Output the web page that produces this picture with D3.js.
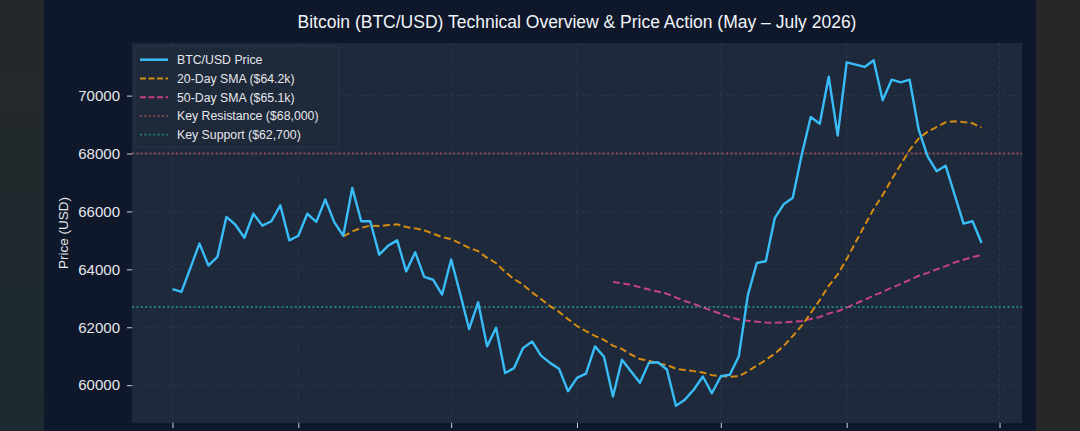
<!doctype html>
<html lang="en">
<head>
  <meta charset="utf-8">
  <title>BTC/USD Technical Overview</title>
  <style>
    html, body { margin: 0; padding: 0; background: #262729; }
    svg { display: block; font-family: "Liberation Sans", Arial, sans-serif; }
    .grid line { stroke: #475569; stroke-opacity: 0.45; stroke-dasharray: 3,3; stroke-width: 0.8; }
    .axis text { fill: #e5e7eb; }
    .axis line { stroke: #cbd5e1; }
    .axis path { display: none; }
  </style>
</head>
<body>
<div id="chart"></div>

<script src="https://d3js.org/d3.v7.min.js"></script>
<script>
  // daily closes, starting 1 May 2026
  const startDate = '2026-05-01';
  const price = [
    63320, 63220, 64050, 64890, 64130, 64430, 65810, 65540, 65090, 65920,
    65510, 65660, 66210, 65000, 65160, 65920, 65640, 66410, 65630, 65160,
    66810, 65660, 65660, 64510, 64820, 65000, 63930, 64590, 63740, 63640,
    63130, 64340, 63160, 61940, 62860, 61340, 61980, 60420, 60590, 61280,
    61510, 61020, 60770, 60570, 59790, 60250, 60400, 61340, 60980, 59610,
    60880, 60480, 60080, 60770, 60790, 60540, 59290, 59500, 59850, 60300,
    59720, 60310, 60360, 61000, 63100, 64220, 64280, 65770, 66250, 66470,
    67960, 69260, 69030, 70650, 68620, 71150, 71070, 70990, 71220, 69840,
    70550, 70460, 70550, 68830, 67900, 67390, 67580, 66580, 65580, 65660,
    64910
  ];
  const smaWindows = [20, 50];
  const resistance = 68000;
  const support = 62700;
  const yTicks = [60000, 62000, 64000, 66000, 68000, 70000];
  const xTicks = ['2026-05-01', '2026-05-15', '2026-06-01', '2026-06-15', '2026-07-01', '2026-07-15', '2026-08-01'];
  const legendLabels = ['BTC/USD Price', '20-Day SMA ($64.2k)', '50-Day SMA ($65.1k)', 'Key Resistance ($68,000)', 'Key Support ($62,700)'];
  const title = 'Bitcoin (BTC/USD) Technical Overview & Price Action (May \u2013 July 2026)';

  const W = 1080, H = 431;
  const fig = { x0: 44, x1: 1036 };
  const plot = { left: 132, right: 1022, top: 43, bottom: 423 };

  const parse = d3.utcParse('%Y-%m-%d');
  const day0 = parse(startDate);
  const dates = price.map((d, i) => d3.utcDay.offset(day0, i));

  // simple moving averages of the price series
  function sma(n) {
    return price.map((d, i) => i < n - 1 ? null : d3.mean(price.slice(i - n + 1, i + 1)));
  }
  const sma20 = sma(smaWindows[0]);
  const sma50 = sma(smaWindows[1]);

  const x = d3.scaleUtc()
    .domain([d3.utcHour.offset(dates[0], -108), d3.utcHour.offset(dates[dates.length - 1], 108)])
    .range([plot.left, plot.right]);

  const yMin = d3.min(price), yMax = d3.max(price), pad = (yMax - yMin) * 0.05;
  const y = d3.scaleLinear()
    .domain([yMin - pad, yMax + pad])
    .range([plot.bottom, plot.top]);

  const svg = d3.select('#chart').append('svg')
    .attr('width', W)
    .attr('height', H);

  const defs = svg.append('defs');
  const grad = defs.append('linearGradient').attr('id', 'side').attr('x1', 0).attr('y1', 0).attr('x2', 0).attr('y2', 1);
  grad.append('stop').attr('offset', '0%').attr('stop-color', '#25282b');
  grad.append('stop').attr('offset', '100%').attr('stop-color', '#1b2a30');

  // backgrounds
  svg.append('rect').attr('x', 0).attr('y', 0).attr('width', fig.x0).attr('height', H).attr('fill', 'url(#side)');
  svg.append('rect').attr('x', fig.x1).attr('y', 0).attr('width', W - fig.x1).attr('height', H).attr('fill', '#262729');
  svg.append('rect').attr('x', fig.x0).attr('y', 0).attr('width', fig.x1 - fig.x0).attr('height', H).attr('fill', '#0f172a');
  svg.append('rect')
    .attr('x', plot.left).attr('y', plot.top)
    .attr('width', plot.right - plot.left).attr('height', plot.bottom - plot.top)
    .attr('fill', '#1e293b');

  // grid
  const xTickDates = xTicks.map(parse);
  svg.append('g').attr('class', 'grid')
    .selectAll('line').data(xTickDates).join('line')
    .attr('x1', d => x(d)).attr('x2', d => x(d))
    .attr('y1', plot.top).attr('y2', plot.bottom);
  svg.append('g').attr('class', 'grid')
    .selectAll('line').data(yTicks).join('line')
    .attr('x1', plot.left).attr('x2', plot.right)
    .attr('y1', d => y(d)).attr('y2', d => y(d));

  // axes
  svg.append('g').attr('class', 'axis')
    .attr('transform', `translate(${plot.left},0)`)
    .call(d3.axisLeft(y).tickValues(yTicks).tickSize(5).tickPadding(7).tickFormat(d3.format('d')))
    .call(g => g.selectAll('text').attr('font-size', 15))
    .call(g => g.selectAll('line').attr('stroke-width', 1));
  svg.append('g').attr('class', 'axis')
    .attr('transform', `translate(0,${plot.bottom})`)
    .call(d3.axisBottom(x).tickValues(xTickDates).tickSize(5).tickFormat(''));

  // key levels
  svg.append('line')
    .attr('x1', plot.left).attr('x2', plot.right)
    .attr('y1', y(resistance)).attr('y2', y(resistance))
    .attr('stroke', '#f87171').attr('stroke-opacity', 0.5)
    .attr('stroke-width', 1.8).attr('stroke-dasharray', '2,2.4');
  svg.append('line')
    .attr('x1', plot.left).attr('x2', plot.right)
    .attr('y1', y(support)).attr('y2', y(support))
    .attr('stroke', '#2dd4bf').attr('stroke-opacity', 0.5)
    .attr('stroke-width', 1.8).attr('stroke-dasharray', '2,2.4');

  const line = d3.line()
    .defined(d => d[1] != null)
    .x(d => x(d[0]))
    .y(d => y(d[1]));

  svg.append('path')
    .datum(dates.map((d, i) => [d, sma50[i]]))
    .attr('d', line)
    .attr('fill', 'none').attr('stroke', '#ec4899').attr('stroke-opacity', 0.8)
    .attr('stroke-width', 2).attr('stroke-dasharray', '7,3.5');

  svg.append('path')
    .datum(dates.map((d, i) => [d, sma20[i]]))
    .attr('d', line)
    .attr('fill', 'none').attr('stroke', '#f59e0b').attr('stroke-opacity', 0.85)
    .attr('stroke-width', 2).attr('stroke-dasharray', '7,3.5');

  svg.append('path')
    .datum(dates.map((d, i) => [d, price[i]]))
    .attr('d', line)
    .attr('fill', 'none').attr('stroke', '#38bdf8')
    .attr('stroke-width', 2.4).attr('stroke-linejoin', 'round');

  // title and y label
  svg.append('text')
    .attr('x', (plot.left + plot.right) / 2).attr('y', 28)
    .attr('text-anchor', 'middle').attr('font-size', 17.5).attr('fill', '#f1f5f9')
    .text(title);

  svg.append('text')
    .attr('transform', `translate(68,${(plot.top + plot.bottom) / 2}) rotate(-90)`)
    .attr('text-anchor', 'middle').attr('font-size', 13.5).attr('fill', '#e5e7eb')
    .text('Price (USD)');

  // legend
  const legendStyles = [
    { color: '#38bdf8', opacity: 1, width: 2.5, dash: null },
    { color: '#f59e0b', opacity: 0.85, width: 2, dash: '6,2.5' },
    { color: '#ec4899', opacity: 0.8, width: 2, dash: '6,2.5' },
    { color: '#f87171', opacity: 0.5, width: 1.8, dash: '2,2.4' },
    { color: '#2dd4bf', opacity: 0.5, width: 1.8, dash: '2,2.4' }
  ];
  const legend = svg.append('g');
  legend.append('rect')
    .attr('x', 135).attr('y', 46).attr('width', 204).attr('height', 101).attr('rx', 3)
    .attr('fill', '#1e293b').attr('fill-opacity', 0.8)
    .attr('stroke', '#334155').attr('stroke-opacity', 0.6);
  const rows = legend.selectAll('g.row').data(legendLabels).join('g')
    .attr('class', 'row')
    .attr('transform', (d, i) => `translate(140,${59.7 + i * 18.75})`);
  rows.append('line')
    .attr('x1', 0).attr('x2', 28)
    .attr('stroke', (d, i) => legendStyles[i].color)
    .attr('stroke-opacity', (d, i) => legendStyles[i].opacity)
    .attr('stroke-width', (d, i) => legendStyles[i].width)
    .attr('stroke-dasharray', (d, i) => legendStyles[i].dash);
  rows.append('text')
    .attr('x', 37).attr('dy', '0.35em')
    .attr('font-size', 12.3).attr('fill', '#e5e7eb')
    .text(d => d);
</script>
</body>
</html>
